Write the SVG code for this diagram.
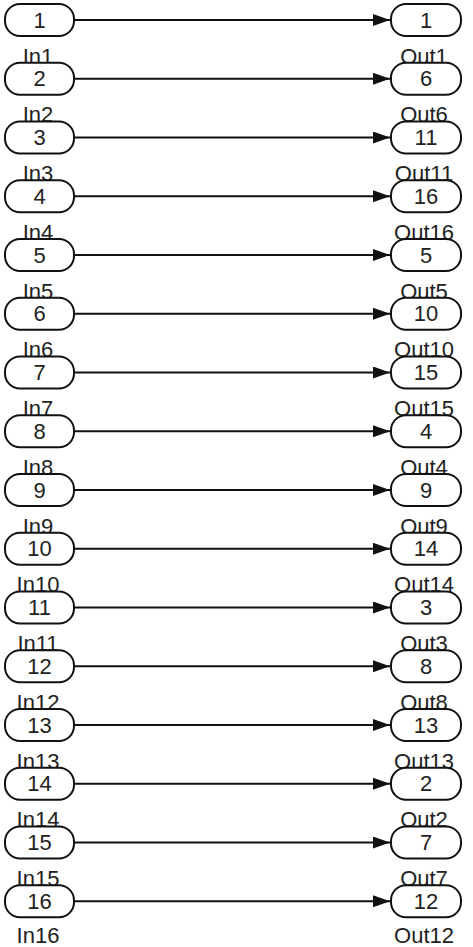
<svg xmlns="http://www.w3.org/2000/svg" width="473" height="947" viewBox="0 0 473 947">
<defs>
<style>
.box{fill:#fff;stroke:#111;stroke-width:2}
.num{font-family:"Liberation Sans",Arial,sans-serif;font-size:22px;fill:#222;text-anchor:middle}
.lbl{font-family:"Liberation Sans",Arial,sans-serif;font-size:22px;fill:#222;text-anchor:middle}
.wire{stroke:#111;stroke-width:2;fill:none}
</style>
<marker id="ah" markerUnits="userSpaceOnUse" markerWidth="18" markerHeight="12" refX="17" refY="6" orient="auto">
<path d="M0,0 L17,6 L0,12 Z" fill="#111"/>
</marker>
</defs>
<g id="connectors">
<path class="wire" marker-end="url(#ah)" d="M74,20 H390"/>
<path class="wire" marker-end="url(#ah)" d="M74,78.75 H390"/>
<path class="wire" marker-end="url(#ah)" d="M74,137.5 H390"/>
<path class="wire" marker-end="url(#ah)" d="M74,196.25 H390"/>
<path class="wire" marker-end="url(#ah)" d="M74,255 H390"/>
<path class="wire" marker-end="url(#ah)" d="M74,313.75 H390"/>
<path class="wire" marker-end="url(#ah)" d="M74,372.5 H390"/>
<path class="wire" marker-end="url(#ah)" d="M74,431.25 H390"/>
<path class="wire" marker-end="url(#ah)" d="M74,490 H390"/>
<path class="wire" marker-end="url(#ah)" d="M74,548.75 H390"/>
<path class="wire" marker-end="url(#ah)" d="M74,607.5 H390"/>
<path class="wire" marker-end="url(#ah)" d="M74,666.25 H390"/>
<path class="wire" marker-end="url(#ah)" d="M74,725 H390"/>
<path class="wire" marker-end="url(#ah)" d="M74,783.75 H390"/>
<path class="wire" marker-end="url(#ah)" d="M74,842.5 H390"/>
<path class="wire" marker-end="url(#ah)" d="M74,901.25 H390"/>
</g>
<g id="In1" transform="translate(0,20)"><rect class="box" x="5" y="-16" width="69" height="32" rx="15"/><text class="num" x="39.5" y="7.5">1</text><text class="lbl" x="38" y="43.5">In1</text></g>
<g id="Out1" transform="translate(0,20)"><rect class="box" x="391" y="-16" width="70" height="32" rx="15"/><text class="num" x="426" y="7.5">1</text><text class="lbl" x="424" y="43.5">Out1</text></g>
<g id="In2" transform="translate(0,78.75)"><rect class="box" x="5" y="-16" width="69" height="32" rx="15"/><text class="num" x="39.5" y="7.5">2</text><text class="lbl" x="38" y="43.5">In2</text></g>
<g id="Out6" transform="translate(0,78.75)"><rect class="box" x="391" y="-16" width="70" height="32" rx="15"/><text class="num" x="426" y="7.5">6</text><text class="lbl" x="424" y="43.5">Out6</text></g>
<g id="In3" transform="translate(0,137.5)"><rect class="box" x="5" y="-16" width="69" height="32" rx="15"/><text class="num" x="39.5" y="7.5">3</text><text class="lbl" x="38" y="43.5">In3</text></g>
<g id="Out11" transform="translate(0,137.5)"><rect class="box" x="391" y="-16" width="70" height="32" rx="15"/><text class="num" x="426" y="7.5">11</text><text class="lbl" x="424" y="43.5">Out11</text></g>
<g id="In4" transform="translate(0,196.25)"><rect class="box" x="5" y="-16" width="69" height="32" rx="15"/><text class="num" x="39.5" y="7.5">4</text><text class="lbl" x="38" y="43.5">In4</text></g>
<g id="Out16" transform="translate(0,196.25)"><rect class="box" x="391" y="-16" width="70" height="32" rx="15"/><text class="num" x="426" y="7.5">16</text><text class="lbl" x="424" y="43.5">Out16</text></g>
<g id="In5" transform="translate(0,255)"><rect class="box" x="5" y="-16" width="69" height="32" rx="15"/><text class="num" x="39.5" y="7.5">5</text><text class="lbl" x="38" y="43.5">In5</text></g>
<g id="Out5" transform="translate(0,255)"><rect class="box" x="391" y="-16" width="70" height="32" rx="15"/><text class="num" x="426" y="7.5">5</text><text class="lbl" x="424" y="43.5">Out5</text></g>
<g id="In6" transform="translate(0,313.75)"><rect class="box" x="5" y="-16" width="69" height="32" rx="15"/><text class="num" x="39.5" y="7.5">6</text><text class="lbl" x="38" y="43.5">In6</text></g>
<g id="Out10" transform="translate(0,313.75)"><rect class="box" x="391" y="-16" width="70" height="32" rx="15"/><text class="num" x="426" y="7.5">10</text><text class="lbl" x="424" y="43.5">Out10</text></g>
<g id="In7" transform="translate(0,372.5)"><rect class="box" x="5" y="-16" width="69" height="32" rx="15"/><text class="num" x="39.5" y="7.5">7</text><text class="lbl" x="38" y="43.5">In7</text></g>
<g id="Out15" transform="translate(0,372.5)"><rect class="box" x="391" y="-16" width="70" height="32" rx="15"/><text class="num" x="426" y="7.5">15</text><text class="lbl" x="424" y="43.5">Out15</text></g>
<g id="In8" transform="translate(0,431.25)"><rect class="box" x="5" y="-16" width="69" height="32" rx="15"/><text class="num" x="39.5" y="7.5">8</text><text class="lbl" x="38" y="43.5">In8</text></g>
<g id="Out4" transform="translate(0,431.25)"><rect class="box" x="391" y="-16" width="70" height="32" rx="15"/><text class="num" x="426" y="7.5">4</text><text class="lbl" x="424" y="43.5">Out4</text></g>
<g id="In9" transform="translate(0,490)"><rect class="box" x="5" y="-16" width="69" height="32" rx="15"/><text class="num" x="39.5" y="7.5">9</text><text class="lbl" x="38" y="43.5">In9</text></g>
<g id="Out9" transform="translate(0,490)"><rect class="box" x="391" y="-16" width="70" height="32" rx="15"/><text class="num" x="426" y="7.5">9</text><text class="lbl" x="424" y="43.5">Out9</text></g>
<g id="In10" transform="translate(0,548.75)"><rect class="box" x="5" y="-16" width="69" height="32" rx="15"/><text class="num" x="39.5" y="7.5">10</text><text class="lbl" x="38" y="43.5">In10</text></g>
<g id="Out14" transform="translate(0,548.75)"><rect class="box" x="391" y="-16" width="70" height="32" rx="15"/><text class="num" x="426" y="7.5">14</text><text class="lbl" x="424" y="43.5">Out14</text></g>
<g id="In11" transform="translate(0,607.5)"><rect class="box" x="5" y="-16" width="69" height="32" rx="15"/><text class="num" x="39.5" y="7.5">11</text><text class="lbl" x="38" y="43.5">In11</text></g>
<g id="Out3" transform="translate(0,607.5)"><rect class="box" x="391" y="-16" width="70" height="32" rx="15"/><text class="num" x="426" y="7.5">3</text><text class="lbl" x="424" y="43.5">Out3</text></g>
<g id="In12" transform="translate(0,666.25)"><rect class="box" x="5" y="-16" width="69" height="32" rx="15"/><text class="num" x="39.5" y="7.5">12</text><text class="lbl" x="38" y="43.5">In12</text></g>
<g id="Out8" transform="translate(0,666.25)"><rect class="box" x="391" y="-16" width="70" height="32" rx="15"/><text class="num" x="426" y="7.5">8</text><text class="lbl" x="424" y="43.5">Out8</text></g>
<g id="In13" transform="translate(0,725)"><rect class="box" x="5" y="-16" width="69" height="32" rx="15"/><text class="num" x="39.5" y="7.5">13</text><text class="lbl" x="38" y="43.5">In13</text></g>
<g id="Out13" transform="translate(0,725)"><rect class="box" x="391" y="-16" width="70" height="32" rx="15"/><text class="num" x="426" y="7.5">13</text><text class="lbl" x="424" y="43.5">Out13</text></g>
<g id="In14" transform="translate(0,783.75)"><rect class="box" x="5" y="-16" width="69" height="32" rx="15"/><text class="num" x="39.5" y="7.5">14</text><text class="lbl" x="38" y="43.5">In14</text></g>
<g id="Out2" transform="translate(0,783.75)"><rect class="box" x="391" y="-16" width="70" height="32" rx="15"/><text class="num" x="426" y="7.5">2</text><text class="lbl" x="424" y="43.5">Out2</text></g>
<g id="In15" transform="translate(0,842.5)"><rect class="box" x="5" y="-16" width="69" height="32" rx="15"/><text class="num" x="39.5" y="7.5">15</text><text class="lbl" x="38" y="43.5">In15</text></g>
<g id="Out7" transform="translate(0,842.5)"><rect class="box" x="391" y="-16" width="70" height="32" rx="15"/><text class="num" x="426" y="7.5">7</text><text class="lbl" x="424" y="43.5">Out7</text></g>
<g id="In16" transform="translate(0,901.25)"><rect class="box" x="5" y="-16" width="69" height="32" rx="15"/><text class="num" x="39.5" y="7.5">16</text><text class="lbl" x="38" y="42">In16</text></g>
<g id="Out12" transform="translate(0,901.25)"><rect class="box" x="391" y="-16" width="70" height="32" rx="15"/><text class="num" x="426" y="7.5">12</text><text class="lbl" x="424" y="42">Out12</text></g>
</svg>
